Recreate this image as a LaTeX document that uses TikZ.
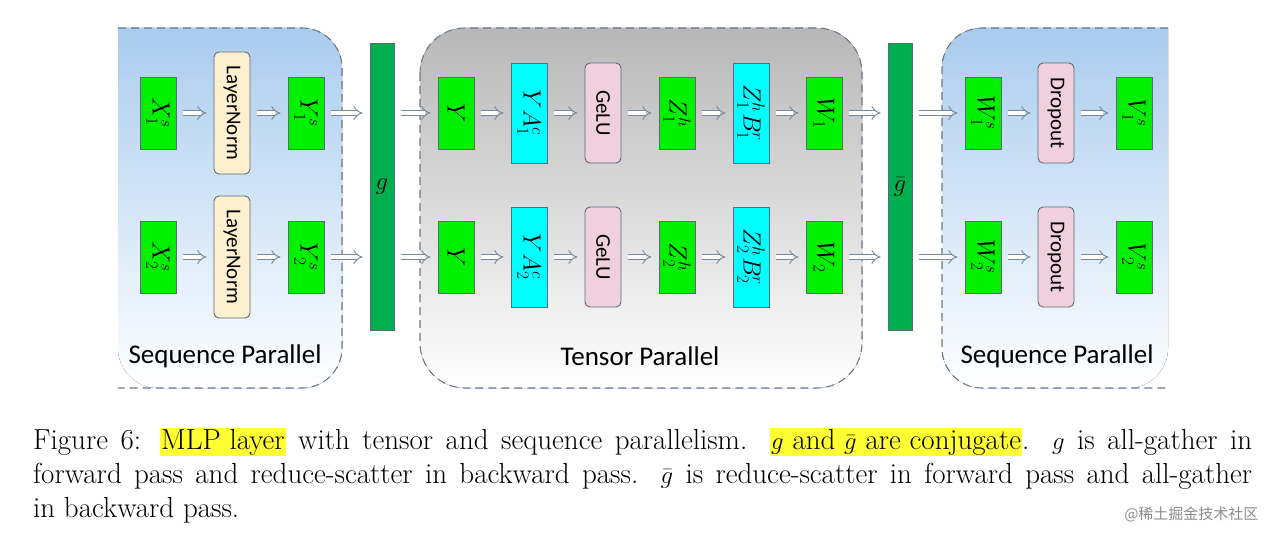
\documentclass[tikz,border=0pt]{standalone}
\usepackage{fontspec}
\newfontfamily\sansf{Carlito}
\newfontfamily\cjk{Noto Sans CJK SC}
\usetikzlibrary{arrows.meta}
\definecolor{bx}{HTML}{00F000}
\definecolor{cy}{HTML}{00FFFF}
\definecolor{dg}{HTML}{00B050}
\definecolor{ln}{HTML}{FDF0CF}
\definecolor{pk}{HTML}{F0D0DC}
\definecolor{bd}{HTML}{5A6A7A}
\definecolor{bl}{HTML}{AACCEE}
\definecolor{hl}{HTML}{FFFF33}
\tikzset{
 box/.style={draw=bd, line width=0.9pt, minimum width=36pt, inner sep=0pt},
 gb/.style={box, fill=bx, minimum height=72pt},
 cb/.style={box, fill=cy, minimum height=100pt},
 lb/.style={box, fill=ln, minimum height=122pt, rounded corners=5pt},
 pb/.style={box, fill=pk, minimum height=100pt, rounded corners=5pt},
 bar/.style={draw=bd, line width=0.6pt, fill=dg, minimum width=24pt, minimum height=287pt, inner sep=0pt},
 arr/.style={draw=bd!80, line width=0.9pt, double=white, double distance=4pt, -{Implies}, shorten >=7pt, shorten <=7pt},
 panel/.style={draw=bd!90, dash pattern=on 8pt off 5pt, line width=1.1pt},
 lab/.style={rotate=-90, font=\fontsize{23}{27}\selectfont},
 slab/.style={rotate=-90, font=\sansf\fontsize{21}{24}\selectfont},
 plab/.style={font=\sansf\fontsize{27}{30}\selectfont},
}
\newcommand{\mybx}[5]{\node[#4] (#1) at (#2,#3) {}; \node[lab] at (#1) {#5};}
\newcommand{\mysb}[5]{\node[#4] (#1) at (#2,#3) {}; \node[slab] at (#1) {#5};}
\begin{document}
\begin{tikzpicture}[x=1pt,y=-1pt]
\useasboundingbox (0,0) rectangle (1280,540);
% panels
\fill[top color=bl, bottom color=white] (118,28) [rounded corners=40pt] -- (342,28) -- (342,388) -- (118,388) [sharp corners] -- cycle;
\draw[panel] (118,28) [rounded corners=40pt] -- (342,28) -- (342,388) -- (118,388);
\fill[top color=white!72!black, bottom color=white, rounded corners=45pt] (420,28) rectangle (862,388);
\draw[panel, rounded corners=45pt] (420,28) rectangle (862,388);
\fill[top color=bl, bottom color=white] (1168,28) [rounded corners=40pt] -- (942,28) -- (942,388) -- (1168,388) [sharp corners] -- cycle;
\draw[panel] (1168,28) [rounded corners=40pt] -- (942,28) -- (942,388) -- (1168,388);
\node[plab] at (225,356) {Sequence Parallel};
\node[plab] at (640,356) {Tensor Parallel};
\node[plab] at (1057,356) {Sequence Parallel};
% bars
\node[bar] (g) at (382,186.5) {};
\node[font=\fontsize{27}{30}\selectfont] at (g.center) {$g$};
\node[bar] (gb) at (900,186.5) {};
\node[font=\fontsize{27}{30}\selectfont] at (gb.center) {$\bar{g}$};
% row 1
\mybx{xa}{158}{113}{gb}{$X_1^s$}
\mysb{la}{232}{113}{lb}{LayerNorm}
\mybx{ya}{306}{113}{gb}{$Y_1^s$}
\mybx{ta}{456}{113}{gb}{$Y$}
\mybx{aa}{529}{113}{cb}{$YA_1^c$}
\mysb{ea}{603}{113}{pb}{GeLU}
\mybx{za}{677}{113}{gb}{$Z_1^h$}
\mybx{ba}{751}{113}{cb}{$Z_1^hB_1^r$}
\mybx{wa}{824}{113}{gb}{$W_1$}
\mybx{sa}{983}{113}{gb}{$W_1^s$}
\mysb{da}{1056}{113}{pb}{Dropout}
\mybx{va}{1134}{113}{gb}{$V_1^s$}
% row 2
\mybx{xb}{158}{257}{gb}{$X_2^s$}
\mysb{lbb}{232}{257}{lb}{LayerNorm}
\mybx{yb}{306}{257}{gb}{$Y_2^s$}
\mybx{tb}{456}{257}{gb}{$Y$}
\mybx{ab}{529}{257}{cb}{$YA_2^c$}
\mysb{eb}{603}{257}{pb}{GeLU}
\mybx{zb}{677}{257}{gb}{$Z_2^h$}
\mybx{bb}{751}{257}{cb}{$Z_2^hB_2^r$}
\mybx{wb}{824}{257}{gb}{$W_2$}
\mybx{sb}{983}{257}{gb}{$W_2^s$}
\mysb{db}{1056}{257}{pb}{Dropout}
\mybx{vb}{1134}{257}{gb}{$V_2^s$}
% arrows
\foreach \a/\b in {xa/la,la/ya,ta/aa,aa/ea,ea/za,za/ba,ba/wa,sa/da,da/va,xb/lbb,lbb/yb,tb/ab,ab/eb,eb/zb,zb/bb,bb/wb,sb/db,db/vb}
  \draw[arr] (\a.east) -- (\b.west);
\draw[arr] (ya.east) -- (ya.east -| g.west);
\draw[arr] (yb.east) -- (yb.east -| g.west);
\draw[arr] (ta.west -| g.east) -- (ta.west);
\draw[arr] (tb.west -| g.east) -- (tb.west);
\draw[arr] (wa.east) -- (wa.east -| gb.west);
\draw[arr] (wb.east) -- (wb.east -| gb.west);
\draw[arr] (sa.west -| gb.east) -- (sa.west);
\draw[arr] (sb.west -| gb.east) -- (sb.west);
% caption
\node[anchor=north west, inner sep=0pt, text width=1219pt, align=justify, font=\fontsize{29}{34}\selectfont] (cap) at (33,428) {%
\setlength{\fboxsep}{1pt}Figure 6: \colorbox{hl}{MLP layer} with tensor and sequence parallelism. \colorbox{hl}{$g$ and $\bar{g}$ are conjugate}. $g$ is all-gather in\linebreak forward pass and reduce-scatter in backward pass. $\bar{g}$ is reduce-scatter in forward pass and all-gather\linebreak in backward pass.};
\node[anchor=east, text=black!45, font=\cjk\fontsize{15}{18}\selectfont] (wm) at (1262,514) {@稀土掘金技术社区};
\end{tikzpicture}
\end{document}
